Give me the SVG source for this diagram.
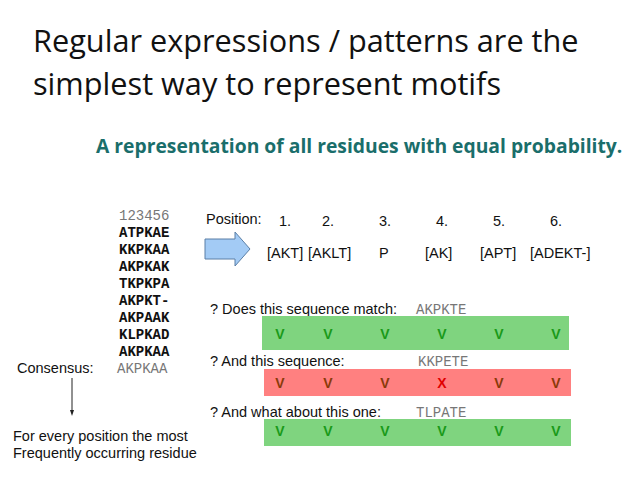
<svg xmlns="http://www.w3.org/2000/svg" width="638" height="478" viewBox="0 0 638 478">
<style>
.t{font-family:"Open Sans","Liberation Sans",sans-serif;fill:#111}
.a{font-family:"Liberation Sans",Arial,sans-serif;font-size:14.5px;fill:#111}
.m{font-family:"Courier New","Liberation Mono",Courier,monospace;font-size:14px;font-weight:bold;fill:#111}
.g{font-family:"Courier New","Liberation Mono",Courier,monospace;font-size:14px;fill:#777}
.v{font-family:"Liberation Sans",Arial,sans-serif;font-size:14px;font-weight:bold;text-anchor:middle}
</style>
<rect width="638" height="478" fill="#fff"/>
<g id="title">
<text class="t" x="33" y="52" font-size="30.7">Regular expressions / patterns are the</text>
<text class="t" x="33" y="95" font-size="30.7">simplest way to represent motifs</text>
<text x="96" y="153" font-family="Open Sans,Liberation Sans,sans-serif" font-size="19.3" font-weight="bold" fill="#1a6e6b">A representation of all residues with equal probability.</text>
</g>
<g id="alignment">
<text class="g" x="119" y="220">123456</text>
<text class="m" x="119" y="237">ATPKAE</text>
<text class="m" x="119" y="254">KKPKAA</text>
<text class="m" x="119" y="271">AKPKAK</text>
<text class="m" x="119" y="288">TKPKPA</text>
<text class="m" x="119" y="305">AKPKT-</text>
<text class="m" x="119" y="322">AKPAAK</text>
<text class="m" x="119" y="339">KLPKAD</text>
<text class="m" x="119" y="356">AKPKAA</text>
</g>
<g id="consensus">
<text class="a" x="17" y="373">Consensus:</text>
<text class="g" x="117" y="373">AKPKAA</text>
<text class="a" x="13" y="441">For every position the most</text>
<text class="a" x="13" y="458">Frequently occurring residue</text>
</g>
<g id="connectors">
<line x1="72" y1="378" x2="72" y2="412" stroke="#222" stroke-width="1"/>
<path d="M70,410 L72,416 L74,410Z" fill="#222"/>
</g>
<g id="arrow">
<path d="M205,239 H235 V232 L250,249 L235,266 V259 H205Z" fill="#a3cbf5" stroke="#5b7fa6" stroke-width="1"/>
</g>
<g id="positions">
<text class="a" x="206" y="224">Position:</text>
<text class="a" x="279" y="226">1.</text>
<text class="a" x="322" y="226">2.</text>
<text class="a" x="379" y="226">3.</text>
<text class="a" x="436" y="226">4.</text>
<text class="a" x="493" y="226">5.</text>
<text class="a" x="550" y="226">6.</text>
<text class="a" x="267" y="258">[AKT]</text>
<text class="a" x="308" y="258">[AKLT]</text>
<text class="a" x="379" y="258">P</text>
<text class="a" x="425" y="258">[AK]</text>
<text class="a" x="480" y="258">[APT]</text>
<text class="a" x="530" y="258">[ADEKT-]</text>
</g>
<g id="q1">
<text class="a" x="210" y="314">? Does this sequence match:</text>
<text class="g" x="416" y="314">AKPKTE</text>
<rect x="262" y="316" width="307" height="34" fill="#7fd47f"/>
<g class="v" fill="#1a9a1a"><text x="280" y="339">V</text><text x="328" y="339">V</text><text x="385" y="339">V</text><text x="442" y="339">V</text><text x="499" y="339">V</text><text x="556" y="339">V</text></g>
</g>
<g id="q2">
<text class="a" x="210" y="366">? And this sequence:</text>
<text class="g" x="418" y="366">KKPETE</text>
<rect x="264" y="369" width="307" height="27" fill="#ff8080"/>
<g class="v" fill="#8a3a0a"><text x="280" y="388">V</text><text x="328" y="388">V</text><text x="385" y="388">V</text><text x="442" y="388" fill="#e00000">X</text><text x="499" y="388">V</text><text x="556" y="388">V</text></g>
</g>
<g id="q3">
<text class="a" x="210" y="417">? And what about this one:</text>
<text class="g" x="416" y="417">TLPATE</text>
<rect x="264" y="419" width="307" height="27" fill="#7fd47f"/>
<g class="v" fill="#1a9a1a"><text x="280" y="436">V</text><text x="328" y="436">V</text><text x="385" y="436">V</text><text x="442" y="436">V</text><text x="499" y="436">V</text><text x="556" y="436">V</text></g>
</g>
</svg>
